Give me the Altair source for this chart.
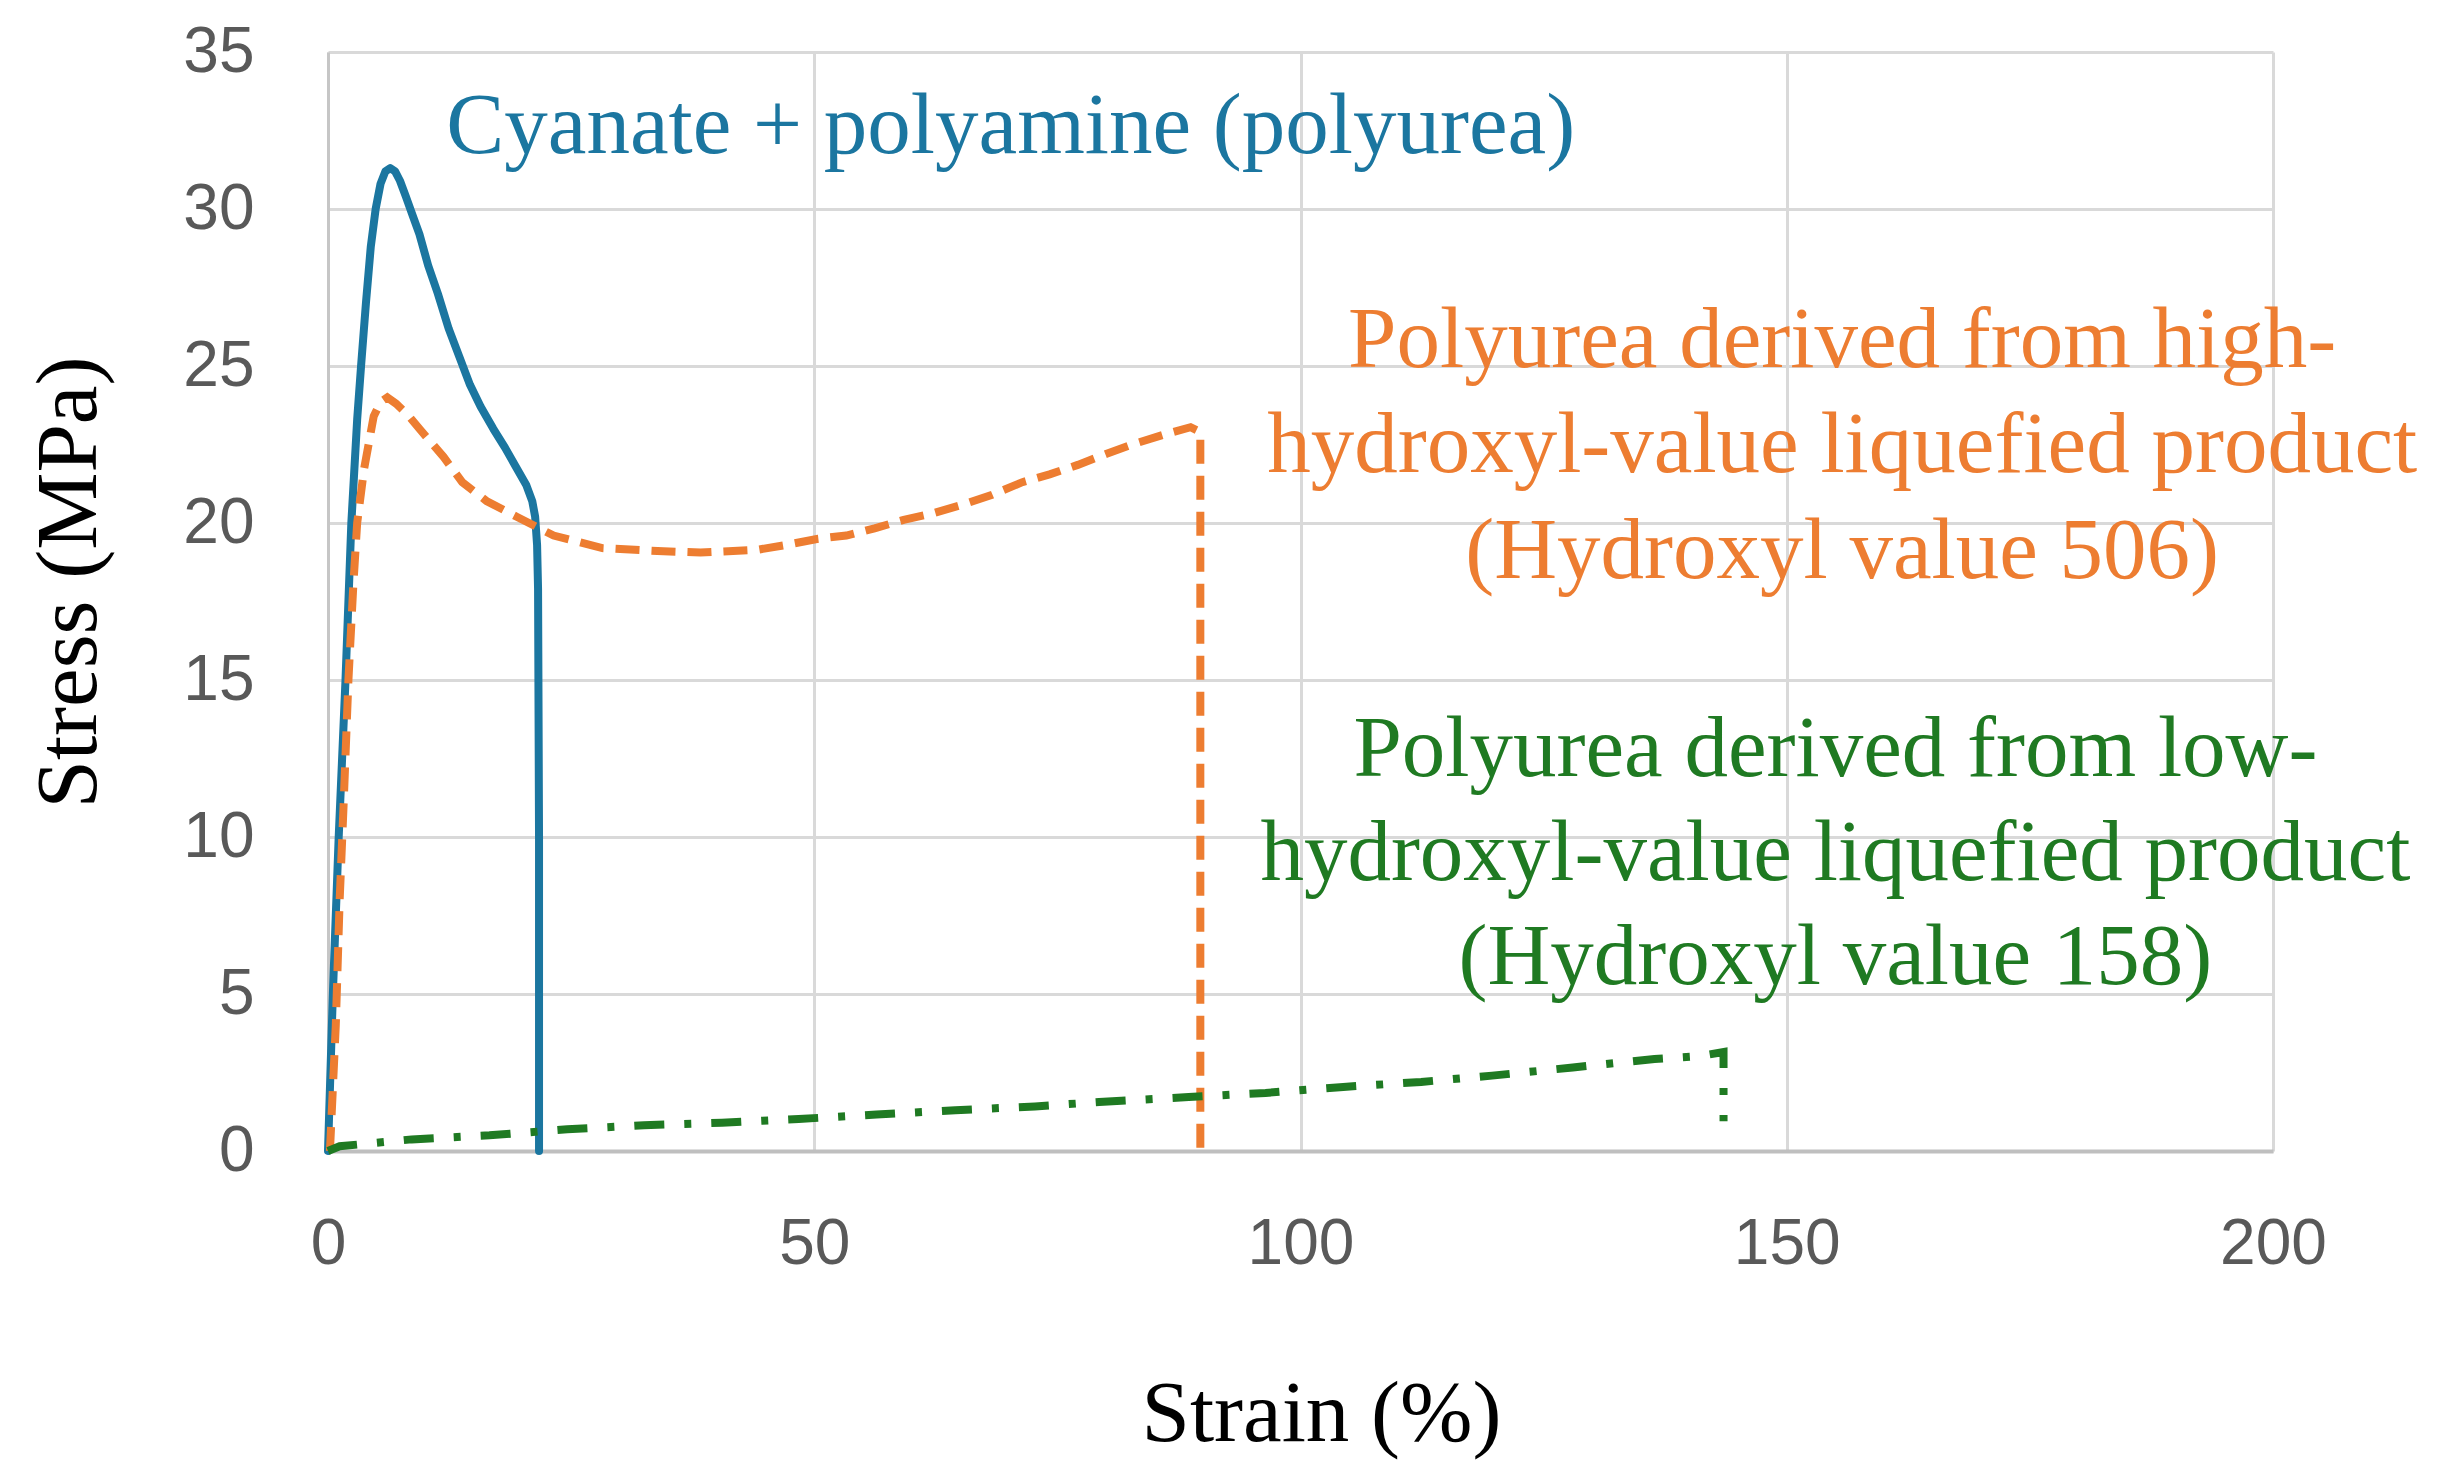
import altair as alt
import pandas as pd

# ---- data ----
blue_strain = [0, 0.5, 1.1, 1.8, 2.4, 3.0, 3.4, 3.9, 4.4, 4.9, 5.4, 5.9, 6.4, 6.9, 7.4, 8.0, 8.7, 9.4, 10.3, 11.3, 12.4,
               13.5, 14.6, 15.7, 17.0, 18.2, 19.3, 20.4, 21.0, 21.3, 21.5, 21.6, 21.7, 21.7]
blue_stress = [0, 5.0, 10.0, 15.0, 20.0, 23.3, 25.0, 27.0, 28.8, 30.0, 30.8, 31.2, 31.3, 31.2, 30.9, 30.4, 29.8, 29.2,
               28.2, 27.3, 26.2, 25.3, 24.4, 23.7, 23.0, 22.4, 21.8, 21.2, 20.7, 20.2, 19.3, 17.9, 10.0, 0]

orange_strain = [0.2, 0.8, 1.2, 1.6, 2.1, 2.6, 3.0, 3.7, 4.7, 5.4, 6.1, 7.0, 8.2, 9.4, 11.9, 13.8, 16.3, 19.4, 23.2, 28.2, 34.5,
                 38.3, 44.2, 47.1, 50.4, 53.3, 56.2, 59.2, 62.1, 65.4, 68.3, 71.4, 74.2, 77.1, 80.0, 82.7, 85.8, 88.7, 89.7, 89.7]
orange_stress = [0, 4.0, 8.0, 11.0, 15.0, 18.0, 20.0, 21.7, 23.4, 23.85, 24.0, 23.8, 23.45, 23.0, 22.1, 21.3, 20.7, 20.2, 19.6,
                 19.2, 19.1, 19.06, 19.15, 19.3, 19.5, 19.6, 19.83, 20.1, 20.3, 20.6, 20.9, 21.3, 21.55, 21.85, 22.2, 22.5,
                 22.8, 23.05, 22.9, 0]

green_strain = [0, 1.2, 8.6, 16.6, 24.6, 32.5, 40.5, 48.4, 56.4, 64.5, 72.7, 79.3, 88.5, 96.4, 104.4, 112.4, 119.7, 128.0,
                136.4, 141.0, 143.5, 143.5]
green_stress = [0, 0.15, 0.37, 0.5, 0.69, 0.82, 0.9, 1.02, 1.16, 1.3, 1.42, 1.56, 1.72, 1.85, 2.04, 2.2, 2.4, 2.66,
                2.93, 3.02, 3.15, 0.95]

label_lines = [
    "Cyanate + polyamine (polyurea)",
    "Polyurea derived from high-",
    "hydroxyl-value liquefied product",
    "(Hydroxyl value 506)",
    "Polyurea derived from low-",
    "hydroxyl-value liquefied product",
    "(Hydroxyl value 158)",
]
label_x = [70.2, 155.7, 155.7, 155.7, 155.0, 155.0, 155.0]
label_y = [31.78, 24.96, 21.62, 18.24, 11.95, 8.62, 5.32]

BLUE = "#1b76a0"
ORANGE = "#ed7d31"
GREEN = "#1f7a22"
label_color = [BLUE, ORANGE, ORANGE, ORANGE, GREEN, GREEN, GREEN]

x_ticks = [0, 50, 100, 150, 200]
y_ticks = [0, 5, 10, 15, 20, 25, 30, 35]


def series(xs, ys):
    return pd.DataFrame({"strain": xs, "stress": ys, "i": list(range(len(xs)))})


x_enc = alt.X(
    "strain:Q",
    scale=alt.Scale(domain=[0, 200], nice=False, zero=True),
    axis=alt.Axis(
        values=x_ticks,
        title="Strain (%)",
        titleFont="Liberation Serif",
        titleFontSize=87,
        titleFontWeight="normal",
        titleColor="#000000",
        titleBaseline="alphabetic",
        titleAlign="center",
        titleX=993,
        titleY=289,
        labelFont="Liberation Sans",
        labelFontSize=64,
        labelColor="#595959",
        labelPadding=61,
        labelFlush=False,
        ticks=False,
        tickSize=0,
        grid=True,
        gridColor="#d9d9d9",
        gridWidth=3,
        domainColor="#bfbfbf",
        domainWidth=4,
    ),
)
y_enc = alt.Y(
    "stress:Q",
    scale=alt.Scale(domain=[0, 35], nice=False),
    axis=alt.Axis(
        values=y_ticks,
        title="Stress (MPa)",
        titleFont="Liberation Serif",
        titleFontSize=87,
        titleFontWeight="normal",
        titleColor="#000000",
        titleAngle=-90,
        titleBaseline="alphabetic",
        titleAlign="center",
        titleX=-233,
        titleY=530,
        labelFont="Liberation Sans",
        labelFontSize=64,
        labelColor="#595959",
        labelPadding=74,
        labelFlush=False,
        ticks=False,
        tickSize=0,
        grid=True,
        gridColor="#d9d9d9",
        gridWidth=3,
        domainColor="#c6c6c6",
        domainWidth=3,
    ),
)

blue = alt.Chart(series(blue_strain, blue_stress)).mark_line(
    color=BLUE, strokeWidth=8, strokeJoin="round", strokeCap="round"
).encode(x=x_enc, y=y_enc, order="i:Q")

orange = alt.Chart(series(orange_strain, orange_stress)).mark_line(
    color=ORANGE, strokeWidth=8, strokeDash=[24, 12]
).encode(x="strain:Q", y="stress:Q", order="i:Q")

green = alt.Chart(series(green_strain, green_stress)).mark_line(
    color=GREEN, strokeWidth=8, strokeDash=[30, 20, 7, 20]
).encode(x="strain:Q", y="stress:Q", order="i:Q")

labels_df = pd.DataFrame({"text": label_lines, "strain": label_x, "stress": label_y, "color": label_color})
labels = alt.Chart(labels_df).mark_text(
    font="Liberation Serif", fontSize=87, align="center", baseline="alphabetic"
).encode(
    x="strain:Q",
    y="stress:Q",
    text="text:N",
    color=alt.Color("color:N", scale=None),
)

chart = alt.layer(blue, orange, green, labels).properties(
    width=1945,
    height=1099,
    padding={"left": 320, "top": 44, "right": 150, "bottom": 317},
    autosize=alt.AutoSizeParams(type="none"),
    background="#ffffff",
).configure_view(stroke=None)

chart.save("out.html", embed_options={"renderer": "svg", "actions": False})
